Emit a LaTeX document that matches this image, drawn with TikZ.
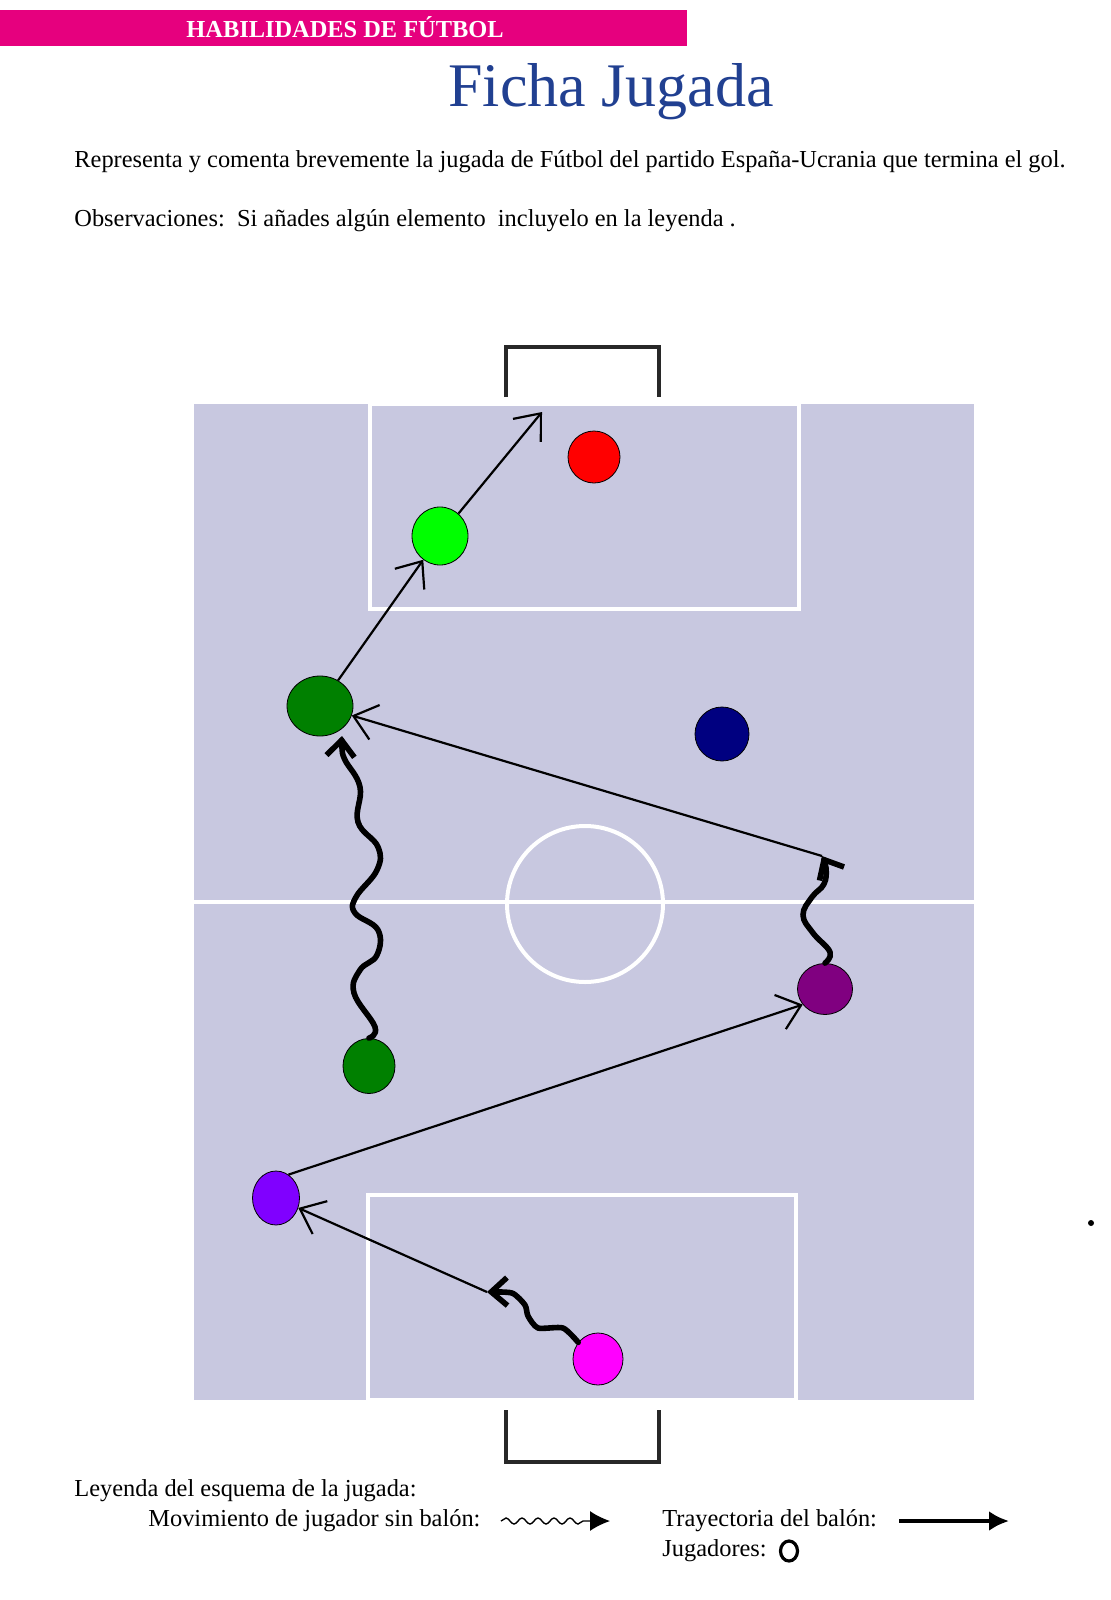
\documentclass[tikz,border=0pt]{standalone}
\usepackage{fontspec}
\setmainfont{Liberation Serif}
\usetikzlibrary{shapes.geometric,arrows.meta,decorations.pathmorphing}
\definecolor{rubi}{RGB}{230,0,126}
\definecolor{tinta}{RGB}{33,64,145}
\definecolor{cesped}{RGB}{200,200,224}
\definecolor{poste}{RGB}{40,40,40}
\definecolor{lima}{RGB}{0,255,0}
\definecolor{verde}{RGB}{0,128,0}
\definecolor{marino}{RGB}{0,0,128}
\definecolor{morado}{RGB}{128,0,128}
\definecolor{violeta}{RGB}{128,0,255}
\definecolor{rosa}{RGB}{255,0,255}
\begin{document}
\begin{tikzpicture}[x=0.5pt,y=-0.5pt,
  jugador/.style={draw,ellipse,inner sep=0pt,line width=0.4pt},
  linea/.style={white,line width=2pt},
  pase/.style={line width=1.1pt,-{Straight Barb[length=11pt,width=18pt]}},
  carrera/.style={line width=2.8pt,line cap=round,line join=round,-{Straight Barb[length=8pt,width=14pt]}},
  texto/.style={anchor=base west,inner sep=0pt,font=\fontsize{12.2}{14}\selectfont}]
\useasboundingbox (0,0) rectangle (1110,1600);

\fill[rubi] (0,10) rectangle (687,46);
\node[anchor=base west,inner sep=0pt,text=white,font=\fontsize{12.2}{14}\selectfont\bfseries] at (186,38) (cab) {HABILIDADES DE FÚTBOL};
\node[anchor=base west,inner sep=0pt,text=tinta,font=\fontsize{31}{36}\selectfont] at (448,106) (tit) {Ficha Jugada};
\node[texto] at (74,168) (enun) {Representa y comenta brevemente la jugada de Fútbol del partido España-Ucrania que termina el gol.};
\node[texto] at (74,226) (obs) {Observaciones:\ \ Si añades algún elemento\ \ incluyelo en la leyenda .};

\fill[cesped] (194,404) rectangle (974,1400);
\draw[linea] (370,404) rectangle (799,609);
\draw[linea] (368,1195) rectangle (796,1400);
\draw[linea] (194,902) -- (974,902);
\draw[linea] (585,904) circle[radius=78];
\draw[poste,line width=2pt] (506,397) -- (506,347) -- (659,347) -- (659,397);
\draw[poste,line width=2pt] (506,1410) -- (506,1462) -- (659,1462) -- (659,1410);

\node[jugador,fill=red,minimum width=26pt,minimum height=26pt] at (594,457) (rojo) {};
\node[jugador,fill=lima,minimum width=28pt,minimum height=29pt] at (440,536) (lima) {};
\node[jugador,fill=verde,minimum width=33pt,minimum height=30pt] at (320,706) (verde1) {};
\node[jugador,fill=marino,minimum width=27pt,minimum height=27pt] at (722,734) (azul) {};
\node[jugador,fill=morado,minimum width=27.5pt,minimum height=25.5pt] at (825,989) (morado) {};
\node[jugador,fill=verde,minimum width=26pt,minimum height=27.5pt] at (369,1066) (verde2) {};
\node[jugador,fill=violeta,minimum width=23.5pt,minimum height=27pt] at (276,1198) (violeta) {};
\node[jugador,fill=rosa,minimum width=25pt,minimum height=26pt] at (598,1359) (rosa) {};

\coordinate (t1) at (342,736);
\coordinate (t2) at (822,856);
\coordinate (t3) at (487,1292);
\coordinate (tiro) at (542,412);

\draw[carrera] plot[smooth,tension=0.7] coordinates {(verde2.north) (375,1027) (354,993) (360,970) (377,955) (378,930) (355,913) (356,897) (377,870) (378,847) (358,822) (360,787) (345,760) (342,748) (t1)};
\draw[carrera] plot[smooth,tension=0.7] coordinates {(morado.north) (830,952) (813,933) (803,915) (812,897) (824,884) (826,868) (t2)};
\draw[carrera] plot[smooth,tension=0.4] coordinates {(rosa.140) (563,1328) (538,1328) (528,1316) (525,1305) (512,1293) (t3)};

\draw[pase] (t3) -- (violeta) ;
\draw[pase] (violeta.62) -- (morado.215) ;
\draw[pase] (t2) -- (verde1) ;
\draw[pase] (verde1) -- (lima) ;
\draw[pase] (lima) -- (tiro) ;

\fill (1091,1223) circle[radius=3];

\node[texto] at (74,1496) (ley) {Leyenda del esquema de la jugada:};
\node[texto] at (148,1526) (mov) {Movimiento de jugador sin balón:};
\coordinate (m1) at (501,1521);
\coordinate (m2) at (610,1521);
\draw[line width=0.7pt,decorate,decoration={snake,amplitude=1.5pt,segment length=8pt,post length=10pt},-{Latex[length=10pt,width=10pt]}] (m1) -- (m2) ;
\node[texto] at (662,1526) (tra) {Trayectoria del balón:};
\coordinate (b1) at (899,1521);
\coordinate (b2) at (1009,1521);
\draw[line width=2pt,-{Latex[length=10pt,width=10pt]}] (b1) -- (b2) ;
\node[texto] at (662,1556) (jug) {Jugadores:};
\node[draw,ellipse,line width=1.6pt,inner sep=0pt,minimum width=8.5pt,minimum height=10pt] at (789,1551) (muestra) {};

\end{tikzpicture}
\end{document}
